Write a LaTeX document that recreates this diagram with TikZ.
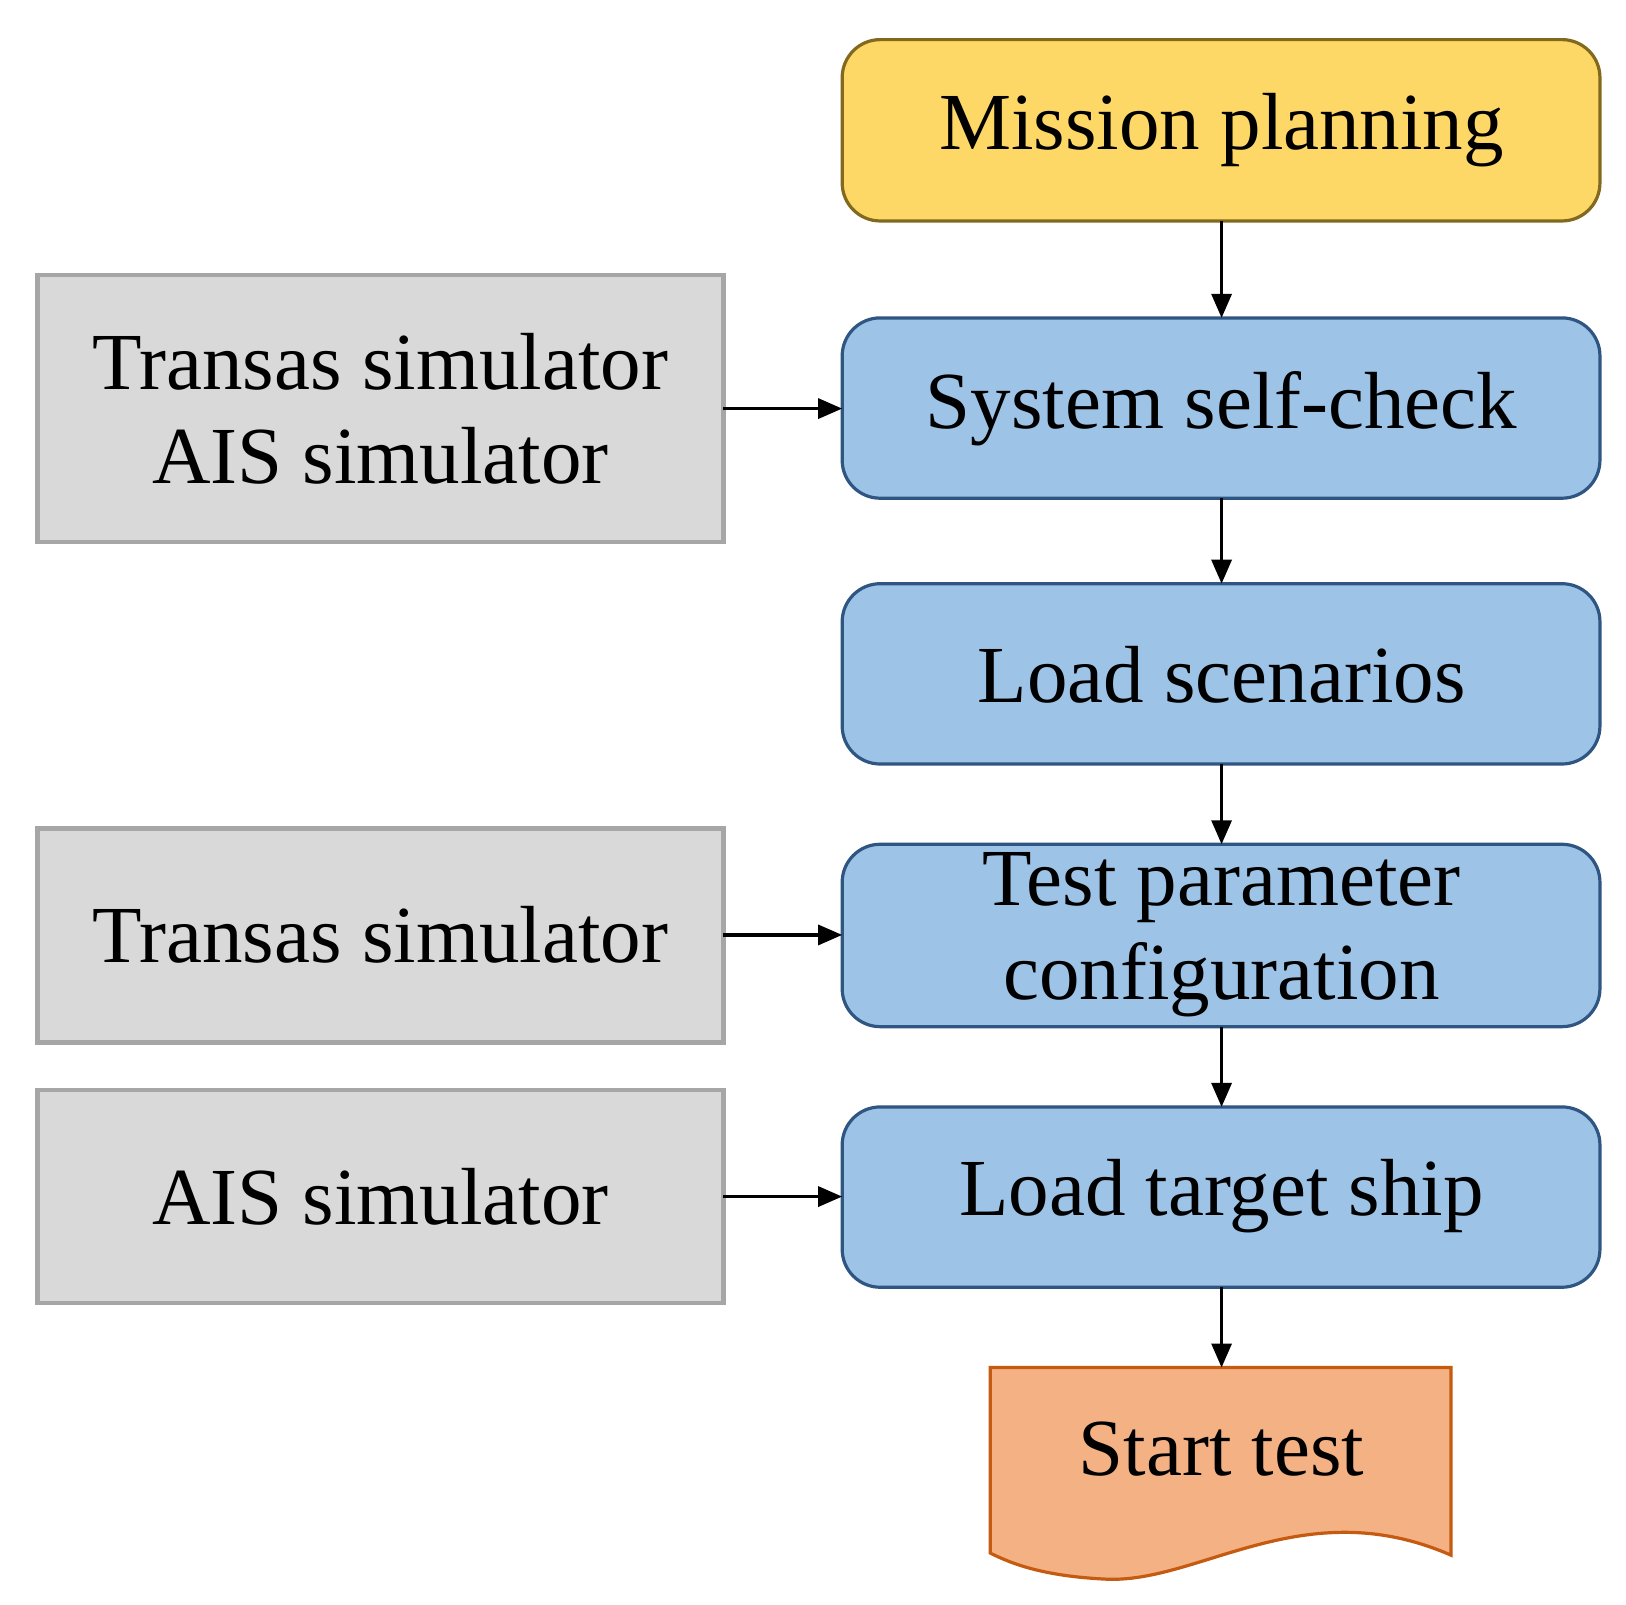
\documentclass[tikz,border=0pt]{standalone}
\usepackage{fontspec}
\setmainfont{Liberation Serif}
\usetikzlibrary{arrows.meta}
\begin{document}
\begin{tikzpicture}[x=0.5212pt,y=-0.5212pt,
 txt/.style={font=\fontsize{40.5}{47}\selectfont,align=center},
 flow/.style={line width=1.6pt,rounded corners=19pt},
 src/.style={draw=black!35,line width=2.2pt,fill=black!15},
 arr/.style={-{Triangle[length=12pt,width=10pt]},line width=1.6pt}]
\useasboundingbox (0,0) rectangle (1560,1539);
\filldraw[flow,fill={rgb,255:red,253;green,216;blue,102},draw={rgb,255:red,130;green,105;blue,30}] (808,38) rectangle (1535,212);
\node[txt] (mp) at (1172,125) {Mission planning};
\filldraw[flow,fill={rgb,255:red,157;green,195;blue,230},draw={rgb,255:red,47;green,85;blue,130}] (808,305) rectangle (1535,478);
\node[txt] (sc) at (1172,392) {System self-check};
\filldraw[flow,fill={rgb,255:red,157;green,195;blue,230},draw={rgb,255:red,47;green,85;blue,130}] (808,560) rectangle (1535,733);
\node[txt] (ls) at (1172,647) {Load scenarios};
\filldraw[flow,fill={rgb,255:red,157;green,195;blue,230},draw={rgb,255:red,47;green,85;blue,130}] (808,810) rectangle (1535,985);
\node[txt] (tp) at (1172,897) {Test parameter\\configuration};
\filldraw[flow,fill={rgb,255:red,157;green,195;blue,230},draw={rgb,255:red,47;green,85;blue,130}] (808,1062) rectangle (1535,1235);
\node[txt] (lt) at (1172,1148) {Load target ship};
\filldraw[fill={rgb,255:red,244;green,177;blue,131},draw={rgb,255:red,197;green,90;blue,17},line width=1.6pt]
 (950,1312) -- (1392,1312) -- (1392,1492) .. controls (1250,1430) and (1150,1520) .. (1060,1515) .. controls (1000,1512) and (970,1500) .. (950,1490) -- cycle;
\node[txt] (st) at (1172,1390) {Start test};
\coordinate (mpb) at (1172,212); \coordinate (sct) at (1172,305);
\coordinate (scb) at (1172,478); \coordinate (lst) at (1172,560);
\coordinate (lsb) at (1172,733); \coordinate (tpt) at (1172,810);
\coordinate (tpb) at (1172,985); \coordinate (ltt) at (1172,1062);
\coordinate (ltb) at (1172,1235); \coordinate (stt) at (1172,1312);
\filldraw[src] (36,264) rectangle (694,520);
\node[txt] (g1) at (365,392) {Transas simulator\\AIS simulator};
\filldraw[src] (36,795) rectangle (694,1000);
\node[txt] (g2) at (365,897) {Transas simulator};
\filldraw[src] (36,1046) rectangle (694,1250);
\node[txt] (g3) at (365,1148) {AIS simulator};
\coordinate (g1r) at (694,392); \coordinate (sl) at (808,392);
\coordinate (g2r) at (694,897); \coordinate (tl) at (808,897);
\coordinate (g3r) at (694,1148); \coordinate (ll) at (808,1148);
\draw[arr] (mpb) -- (sct); \draw[arr] (scb) -- (lst); \draw[arr] (lsb) -- (tpt);
\draw[arr] (tpb) -- (ltt); \draw[arr] (ltb) -- (stt);
\draw[arr] (g1r) -- (sl); \draw[arr] (g2r) -- (tl); \draw[arr] (g3r) -- (ll);
\end{tikzpicture}
\end{document}
